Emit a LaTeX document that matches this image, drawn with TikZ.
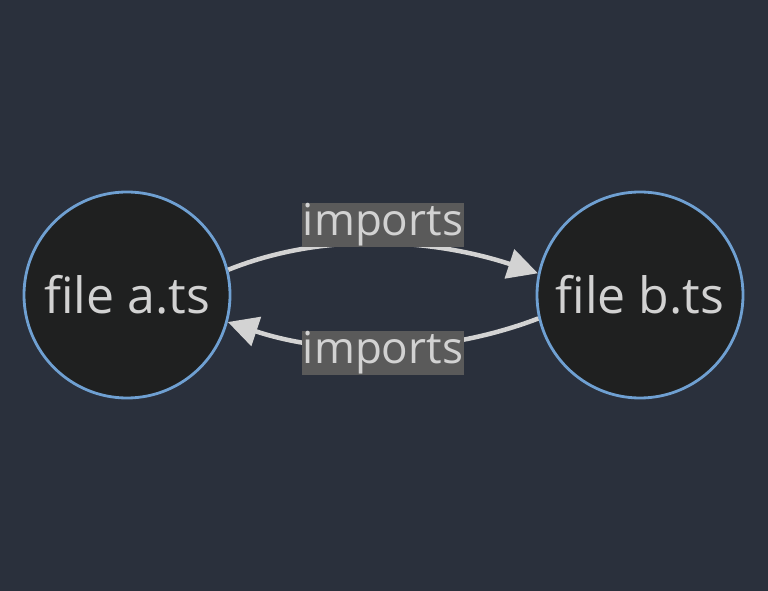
\documentclass[tikz,border=0pt]{standalone}
\usepackage{fontspec}
\setmainfont{Open Sans}
\usetikzlibrary{arrows.meta}
\definecolor{bg}{HTML}{2A303C}
\definecolor{nodefill}{HTML}{1F2020}
\definecolor{nodeline}{HTML}{6FA0D2}
\definecolor{txt}{HTML}{D2D2D2}
\definecolor{lbl}{HTML}{5A5A5A}
\definecolor{edge}{HTML}{D3D3D3}
\begin{document}
\begin{tikzpicture}[x=1pt,y=1pt,
  filenode/.style={circle,draw=nodeline,line width=2.8pt,fill=nodefill,minimum size=206pt,inner sep=0pt,text=txt,font=\fontsize{50pt}{56pt}\selectfont},
  elabel/.style={fill=lbl,text=txt,inner sep=1pt,font=\fontsize{44pt}{50pt}\selectfont},
  conn/.style={draw=edge,line width=4.5pt,-{Triangle[length=30pt,width=30pt]}}]
\fill[bg] (0,0) rectangle (768,591);
\useasboundingbox (0,0) rectangle (768,591);
\node[filenode] (a) at (127,296) {file a.ts};
\node[filenode] (b) at (640,296) {file b.ts};
\draw[conn] (a.14) .. controls (330,362) and (440,350) .. (b.168);
\draw[conn] (b.193) .. controls (440,235) and (330,235) .. (a.-15);
\node[elabel] (l1) at (383,366) {imports};
\node[elabel] (l2) at (383,238) {imports};
\end{tikzpicture}
\end{document}
